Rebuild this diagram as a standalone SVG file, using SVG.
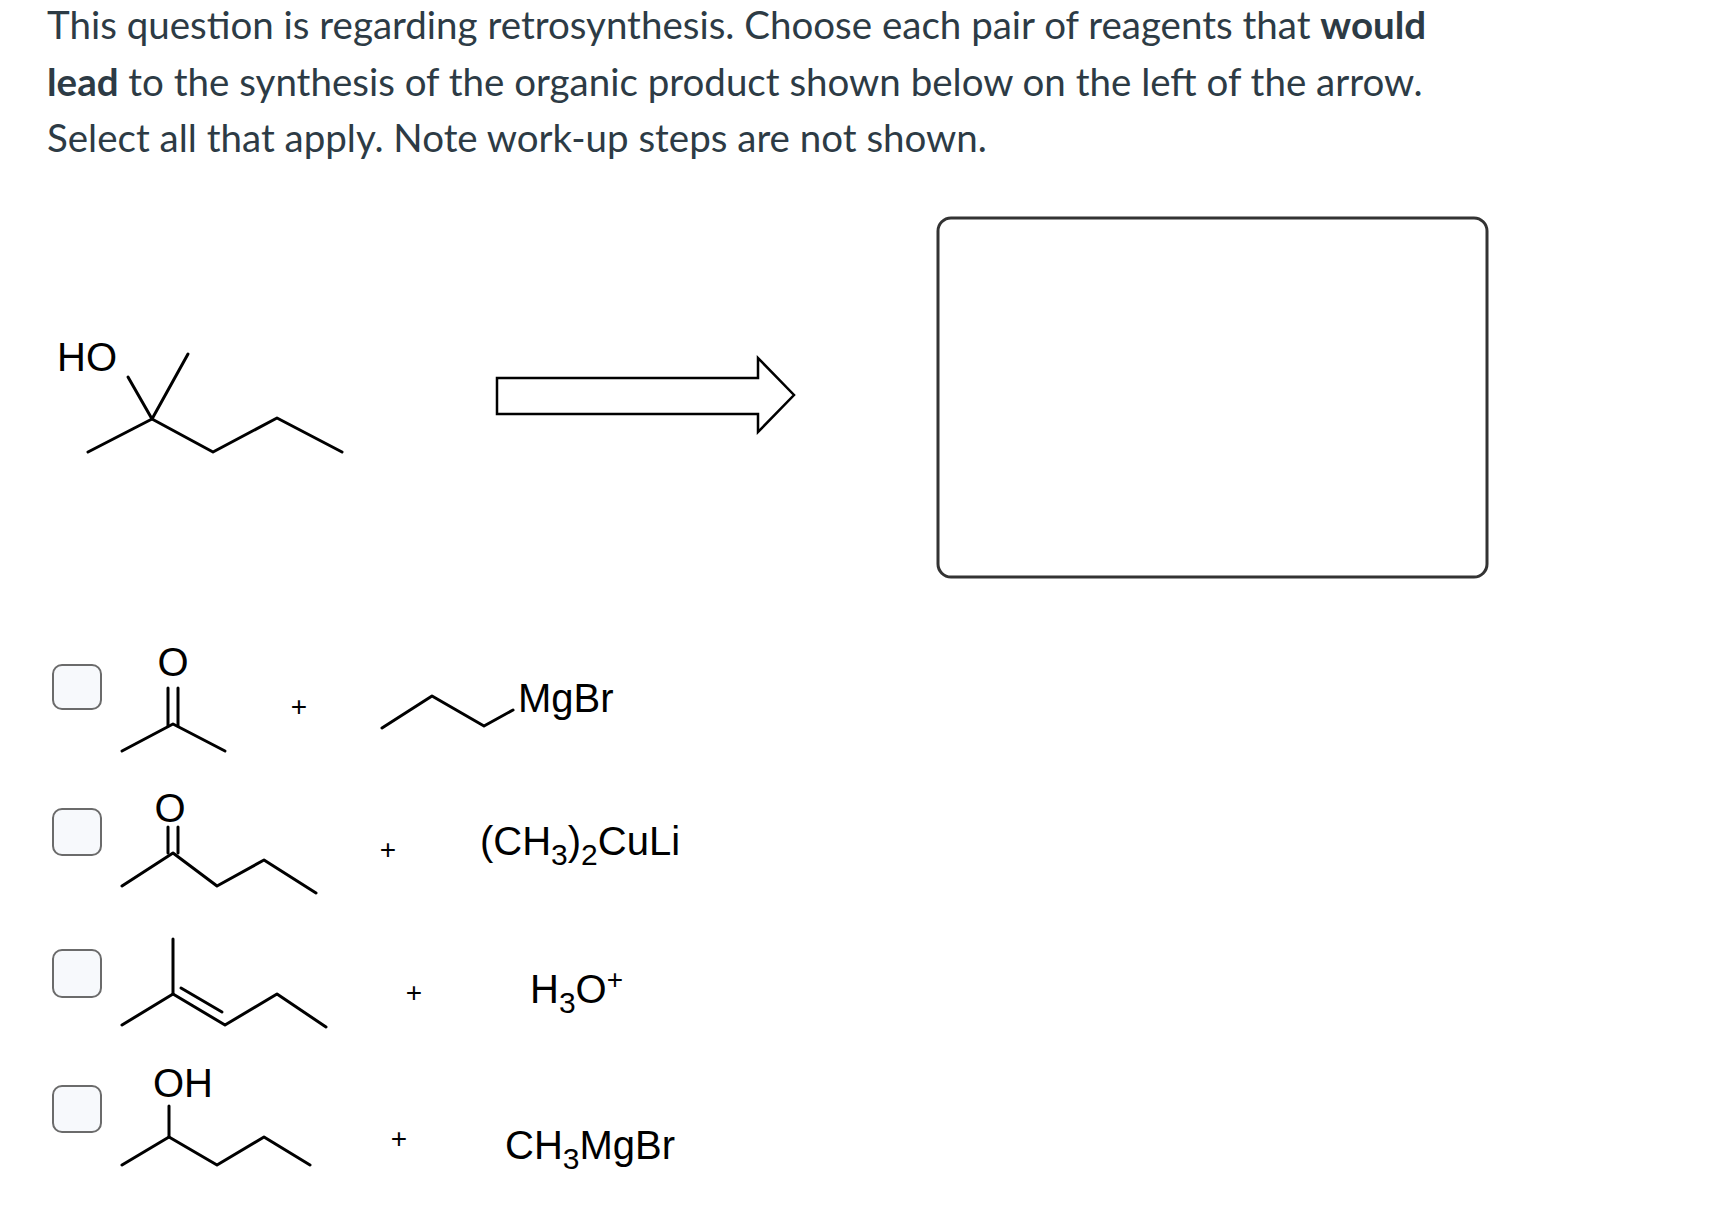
<svg xmlns="http://www.w3.org/2000/svg" width="1728" height="1212" viewBox="0 0 1728 1212">
<style>
.q{font-family:Lato,"Liberation Sans",sans-serif;font-size:38.5px;fill:#2d3b45}
.b{stroke:#000;stroke-width:3;fill:none;stroke-linecap:round;stroke-linejoin:round}
.t{font-family:"Liberation Sans",Arial,sans-serif;font-size:40px;fill:#000}
.p{font-family:"Liberation Sans",Arial,sans-serif;font-size:28px;fill:#000;text-anchor:middle}
.cb{fill:#f7f9fc;stroke:#6b6b6b;stroke-width:2}
</style>
<rect width="1728" height="1212" fill="#fff"/>
<g id="question">
<text class="q" x="47" y="39">This question is regarding retrosynthesis. Choose each pair of reagents that <tspan font-weight="bold">would</tspan></text>
<text class="q" x="47" y="96"><tspan font-weight="bold">lead</tspan> to the synthesis of the organic product shown below on the left of the arrow.</text>
<text class="q" x="47" y="152">Select all that apply. Note work-up steps are not shown.</text>
</g>
<g id="product">
<text class="t" x="57" y="371" font-size="52">HO</text>
<polyline class="b" points="128,377 152,419 188,354"/>
<polyline class="b" points="88,452 152,419 213,452 277,418 342,452"/>
</g>
<g id="arrow">
<path d="M497,378 H758 V358 L794,395 L758,432 V414 H497 Z" fill="#fff" stroke="#000" stroke-width="2.5"/>
</g>
<g id="answer-box"><rect x="938" y="218" width="549" height="359" rx="13" fill="#fff" stroke="#333" stroke-width="3"/></g>
<g id="option1">
<rect class="cb" x="53" y="665" width="48" height="44" rx="9"/>
<text class="t" x="173" y="676" text-anchor="middle">O</text>
<line class="b" x1="168" y1="688" x2="168" y2="726"/><line class="b" x1="178" y1="688" x2="178" y2="726"/>
<polyline class="b" points="122,751 173,724 225,751"/>
<text class="p" x="299" y="716">+</text>
<polyline class="b" points="382,728 432,696 484,726 513,710"/>
<text class="t" x="518" y="712">MgBr</text>
</g>
<g id="option2">
<rect class="cb" x="53" y="809" width="48" height="46" rx="9"/>
<text class="t" x="170" y="822" text-anchor="middle">O</text>
<line class="b" x1="168" y1="827" x2="168" y2="853"/><line class="b" x1="178" y1="827" x2="178" y2="853"/>
<polyline class="b" points="122,886 173,853 217,886 264,860 316,893"/>
<text class="p" x="388" y="859">+</text>
<text class="t" x="480" y="855">(CH<tspan font-size="30" dy="10">3</tspan><tspan dy="-10">)</tspan><tspan font-size="30" dy="10">2</tspan><tspan dy="-10">CuLi</tspan></text>
</g>
<g id="option3">
<rect class="cb" x="53" y="950" width="48" height="47" rx="9"/>
<line class="b" x1="173" y1="939" x2="173" y2="994"/>
<polyline class="b" points="122,1025 173,994 225,1025 277,994 326,1027"/>
<line class="b" x1="181" y1="988" x2="222" y2="1012"/>
<text class="p" x="414" y="1002">+</text>
<text class="t" x="530" y="1003">H<tspan font-size="30" dy="10">3</tspan><tspan dy="-10">O</tspan><tspan font-size="28" dy="-14">+</tspan></text>
</g>
<g id="option4">
<rect class="cb" x="53" y="1086" width="48" height="46" rx="9"/>
<text class="t" x="153" y="1097">OH</text>
<line class="b" x1="169" y1="1106" x2="169" y2="1137"/>
<polyline class="b" points="122,1165 169,1137 217,1165 264,1137 310,1165"/>
<text class="p" x="399" y="1148">+</text>
<text class="t" x="505" y="1159">CH<tspan font-size="30" dy="10">3</tspan><tspan dy="-10">MgBr</tspan></text>
</g>
</svg>
